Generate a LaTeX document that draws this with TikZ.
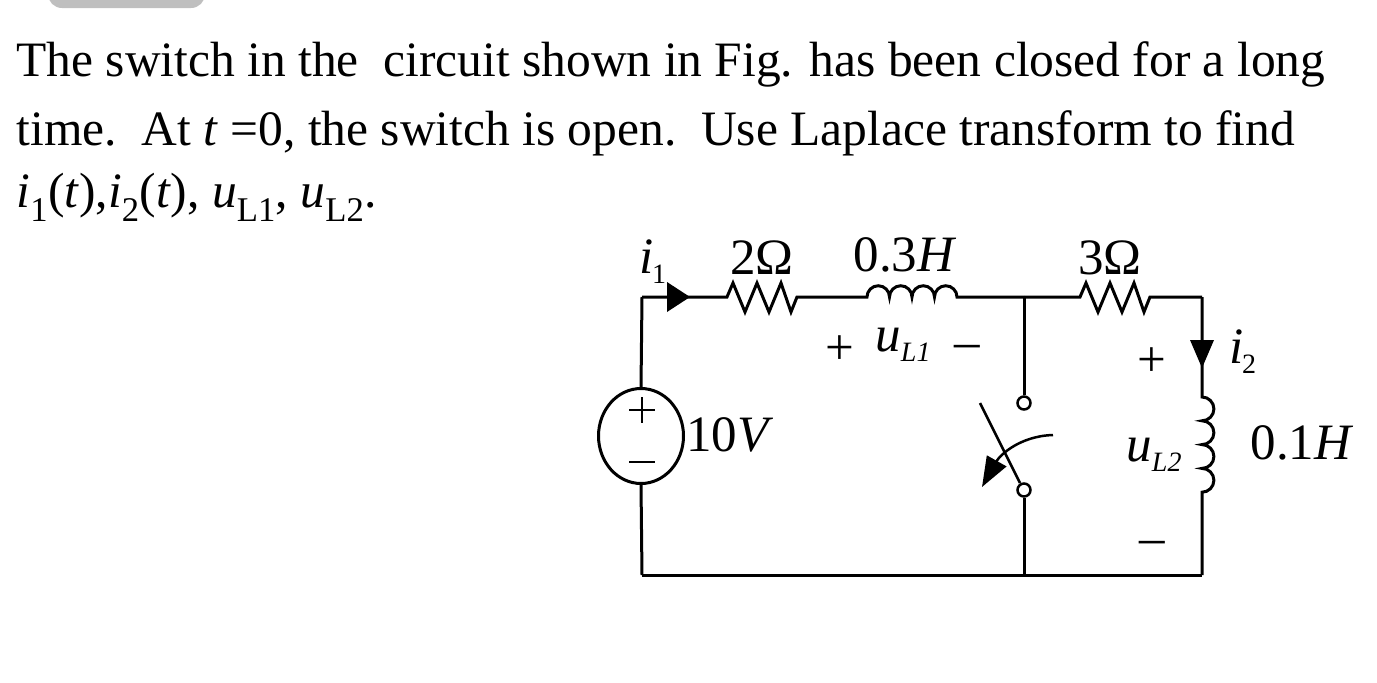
\documentclass[tikz,border=0pt]{standalone}
\usepackage{fontspec}
\setmainfont{Liberation Serif}
\usetikzlibrary{arrows.meta,shapes.geometric}
\begin{document}
\begin{tikzpicture}[x=1pt,y=-1pt,line width=3pt,
  lbl/.style={inner sep=0pt,font=\fontsize{51}{51}\selectfont},
  txt/.style={inner sep=0pt,anchor=base west,font=\fontsize{49.5}{49.5}\selectfont}]
\useasboundingbox (0,0) rectangle (1377,683);
\fill[gray!100!black,opacity=0.5,rounded corners=14pt] (48,-30) rectangle (205,8);
\node[txt] (l1) at (15,76) {The switch in the\ \ circuit shown in Fig. has been closed for a long};
\node[txt] (l2) at (15,145) {time.\ \ At \textit{t} =0, the switch is open.\ \ Use Laplace transform to find};
\node[txt] (l3) at (15,207) {\textit{i}\textsubscript{1}(\textit{t}),\textit{i}\textsubscript{2}(\textit{t}), \textit{u}\textsubscript{L1}, \textit{u}\textsubscript{L2}.};
% coordinates
\coordinate (tl) at (642,297); \coordinate (j) at (1024,297); \coordinate (tr) at (1202,297);
\coordinate (bl) at (642,575); \coordinate (bj) at (1024,575); \coordinate (br) at (1202,575);
% top wire with components
\draw[line join=miter] (tl) -- (727,297) -- (733,283) -- (745,312) -- (757,283) -- (769,312) -- (781,283) -- (791,312) -- (797,297) -- (867,297)
  arc[start angle=180,end angle=360,radius=11.25] arc[start angle=180,end angle=360,radius=11.25]
  arc[start angle=180,end angle=360,radius=11.25] arc[start angle=180,end angle=360,radius=11.25] -- (j);
\draw[line join=miter] (j) -- (1080,297) -- (1086,283) -- (1098,312) -- (1110,283) -- (1122,312) -- (1134,283) -- (1144,312) -- (1150,297) -- (tr);
% right branch with L2
\draw (tr) -- (1202,397)
  arc[start angle=270,end angle=450,radius=11.9] arc[start angle=270,end angle=450,radius=11.9]
  arc[start angle=270,end angle=450,radius=11.9] arc[start angle=270,end angle=450,radius=11.9] -- (br);
\draw (bl) -- (br);
% source
\node[draw,ellipse,minimum width=85,minimum height=95,inner sep=0pt] (src) at (641,436) {};
\draw (tl) -- (src.north); \draw (src.south) -- (bl);
\draw[line width=2pt] (629,410) -- (655,410) (642,397) -- (642,423) (629,462) -- (655,462);
% switch
\node[draw,circle,minimum size=13,inner sep=0pt,line width=2.5pt] (s1) at (1024,403) {};
\node[draw,circle,minimum size=13,inner sep=0pt,line width=2.5pt] (s2) at (1024,490) {};
\draw (j) -- (s1.north); \draw (s2.south) -- (bj);
\draw[line width=2.5pt] (980,403) -- (1020,483);
\draw[line width=2.5pt,-{Triangle[length=30,width=22]}] (1053,435) .. controls (1020,436) and (1000,455) .. (982,487);
% current arrows
\fill (667,282) -- (690,297) -- (667,312) -- cycle;
\fill (1190,340) -- (1202,368) -- (1214,340) -- cycle;
% labels
\node[lbl] (i1) at (653,262) {\textit{i}\kern-2pt\raisebox{-10pt}{\fontsize{28}{28}\selectfont 1}};
\node[lbl] (r1) at (762,258) {2Ω};
\node[lbl] (lab1) at (905,255) {0.3\textit{H}};
\node[lbl] (r2) at (1110,258) {3Ω};
\node[lbl] (i2) at (1243,352) {\textit{i}\kern-2pt\raisebox{-10pt}{\fontsize{28}{28}\selectfont 2}};
\node[lbl] (p1) at (840,350) {+};
\node[lbl] (ul1) at (903,345) {\textit{u}\raisebox{-10pt}{\fontsize{28}{28}\selectfont\itshape L1}};
\node[lbl] (m1) at (967,352) {–};
\node[lbl] (p2) at (1152,362) {+};
\node[lbl] (ul2) at (1154,455) {\textit{u}\raisebox{-10pt}{\fontsize{28}{28}\selectfont\itshape L2}};
\node[lbl] (m2) at (1152,548) {–};
\node[lbl] (v) at (730,435) {10\textit{V}};
\node[lbl] (l2v) at (1302,443) {0.1\textit{H}};
\end{tikzpicture}
\end{document}
